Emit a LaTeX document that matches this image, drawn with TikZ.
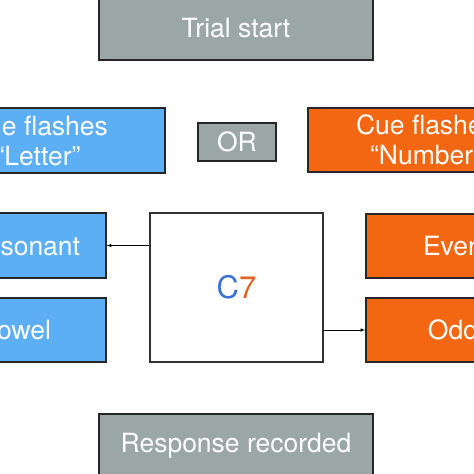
\documentclass[tikz,border=0pt]{standalone}
\usepackage{fontspec}
\setmainfont{TeX Gyre Heros}
\usetikzlibrary{arrows}

\begin{document}
\begin{tikzpicture}[x=1pt,y=-1pt,>=latex,
  box/.style={draw=black!85, line width=1.6pt, inner sep=0pt, text=white,
    font=\fontsize{26.5}{30}\selectfont, align=center},
  greybox/.style={box, fill=slate},
  letterbox/.style={box, fill=letterblue},
  numberbox/.style={box, fill=numberorange}]

% Define box colours
\definecolor{slate}{RGB}{155, 167, 166}
\definecolor{letterblue}{RGB}{92, 175, 245}
\definecolor{numberorange}{RGB}{244, 103, 18}
\definecolor{cblue}{RGB}{58, 115, 216}
\definecolor{corange}{RGB}{232, 96, 26}

% Fix the page and cut what runs over it
\useasboundingbox (0,0) rectangle (474,474);
\clip (0,0) rectangle (474,474);

% Start and end of a trial
\node[greybox, minimum width=274pt, minimum height=64pt] (start) at (236,28) {Trial start};
\node[greybox, minimum width=274pt, minimum height=64pt] (resp) at (236,446) {Response recorded};

% Cue row
\node[letterbox, minimum width=254pt, minimum height=65pt] (cueL) at (38,140.5) {Cue flashes\\``Letter''};
\node[greybox, minimum width=78pt, minimum height=38pt] (or) at (237,142) {OR};
\node[numberbox, minimum width=236pt, minimum height=64pt] (cueN) at (426,140) {Cue flashes\\``Number''};

% Answer boxes
\node[letterbox, minimum width=180pt, minimum height=65pt] (cons) at (16,245.5) {Consonant};
\node[letterbox, minimum width=180pt, minimum height=64pt] (vow) at (16,330) {Vowel};
\node[numberbox, minimum width=174pt, minimum height=64pt] (even) at (453,246) {Even};
\node[numberbox, minimum width=174pt, minimum height=64pt] (odd) at (453,330) {Odd};

% Stimulus
\node[draw=black!80, line width=1.3pt, fill=white, minimum width=173pt, minimum height=149pt,
  font=\fontsize{31}{36}\selectfont] (stim) at (236.5,287.5)
  {\textcolor{cblue}{C}\textcolor{corange}{7}};

\draw[->, line width=0.6pt] (stim.west |- cons.east) -- (cons.east);
\draw[->, line width=0.6pt] (stim.east |- odd.west) -- (odd.west);

\end{tikzpicture}
\end{document}
